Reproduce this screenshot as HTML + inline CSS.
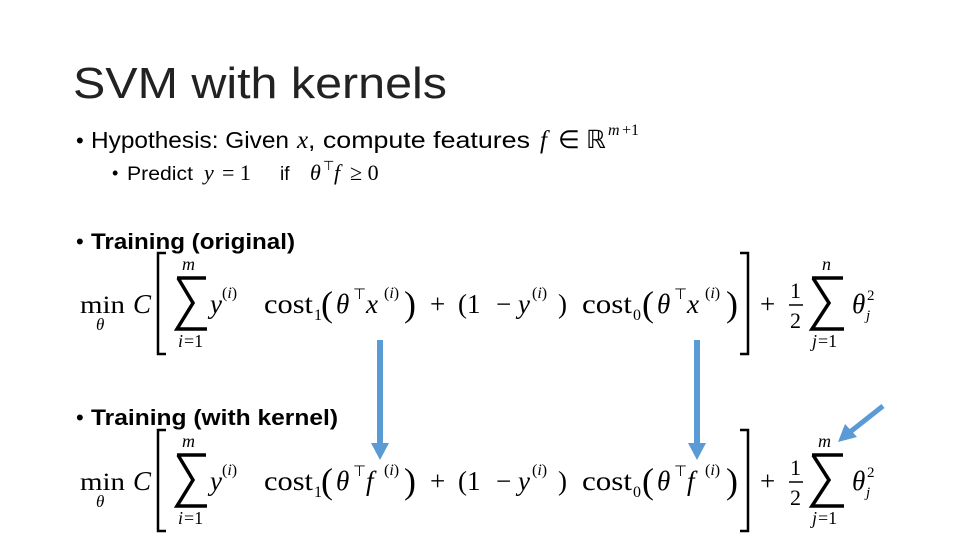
<!DOCTYPE html>
<html><head><meta charset="utf-8"><style>
html,body{margin:0;padding:0;background:#fff;}
svg{display:block;}
.s{font-family:"Liberation Sans",sans-serif;}
.m{font-family:"Liberation Serif",serif;}
.i{font-family:"Liberation Serif",serif;font-style:italic;}
</style></head><body>
<svg width="960" height="540" viewBox="0 0 960 540" xmlns="http://www.w3.org/2000/svg">
<rect width="960" height="540" fill="#fff"/>
<text x="73" y="98" class="s" font-size="44" textLength="374" lengthAdjust="spacingAndGlyphs" fill="#222">SVM with kernels</text>

<text x="76" y="148" class="s" font-size="22">•</text>
<text x="91" y="148" class="s" font-size="23" textLength="198" lengthAdjust="spacingAndGlyphs">Hypothesis: Given</text>
<text x="297" y="148" class="i" font-size="25">x</text>
<text x="308" y="148" class="s" font-size="23" textLength="222" lengthAdjust="spacingAndGlyphs">, compute features</text>
<text x="540" y="148" class="i" font-size="25">f</text>
<text x="558" y="148" class="m" font-size="25">∈</text>
<text x="586" y="148" class="m" font-size="25">ℝ</text>
<text x="608" y="135" class="i" font-size="16">m</text><text x="622" y="135" class="m" font-size="16">+1</text>

<text x="112" y="179" class="s" font-size="18">•</text>
<text x="127" y="180" class="s" font-size="19" textLength="66" lengthAdjust="spacingAndGlyphs">Predict</text>
<text x="204" y="180" class="i" font-size="22">y</text><text x="222" y="180" class="m" font-size="22">= 1</text>
<text x="280" y="180" class="s" font-size="19">if</text>
<text x="310" y="180" class="i" font-size="22">θ</text><text x="323" y="170" class="m" font-size="13">⊤</text><text x="334" y="180" class="i" font-size="22">f</text><text x="350" y="180" class="m" font-size="22">≥ 0</text>

<text x="76" y="249" class="s" font-size="22">•</text>
<text x="91" y="249" class="s" font-size="22" font-weight="bold" textLength="204" lengthAdjust="spacingAndGlyphs">Training (original)</text>
<text x="76" y="425" class="s" font-size="22">•</text>
<text x="91" y="425" class="s" font-size="22" font-weight="bold" textLength="247" lengthAdjust="spacingAndGlyphs">Training (with kernel)</text>

<g id="F1">
<text x="80" y="313" class="m" font-size="25" textLength="45" lengthAdjust="spacingAndGlyphs">min</text>
<text x="96" y="330" class="i" font-size="17">θ</text>
<text x="133" y="313" class="i" font-size="27">C</text>
<path d="M166,253 H158 V354 H166" fill="none" stroke="#000" stroke-width="2.5"/>
<path d="M177,278 H206 M178,278 L193,303 L177,329 H207" fill="none" stroke="#000" stroke-width="3.5" stroke-linejoin="miter"/>
<text x="178" y="347" class="i" font-size="18">i</text><text x="184" y="347" class="m" font-size="18">=1</text>
<text x="210" y="313" class="i" font-size="27">y</text><text x="222" y="298" class="m" font-size="16">(<tspan class="i">i</tspan>)</text>
<text x="264" y="313" class="m" font-size="27" textLength="49" lengthAdjust="spacingAndGlyphs">cost</text><text x="314" y="320" class="m" font-size="16">1</text>
<text x="321" y="316" class="m" font-size="36">(</text>
<text x="336" y="313" class="i" font-size="27">θ</text><text x="353" y="299" class="m" font-size="15">⊤</text>
<text x="384" y="298" class="m" font-size="16">(<tspan class="i">i</tspan>)</text>
<text x="404" y="316" class="m" font-size="36">)</text>
<text x="430" y="313" class="m" font-size="27">+</text>
<text x="458" y="313" class="m" font-size="27">(1</text>
<text x="496" y="313" class="m" font-size="27">−</text>
<text x="518" y="313" class="i" font-size="27">y</text><text x="532" y="298" class="m" font-size="16">(<tspan class="i">i</tspan>)</text>
<text x="558" y="313" class="m" font-size="27">)</text>
<text x="582" y="313" class="m" font-size="27" textLength="50" lengthAdjust="spacingAndGlyphs">cost</text><text x="633" y="320" class="m" font-size="16">0</text>
<text x="642" y="316" class="m" font-size="36">(</text>
<text x="657" y="313" class="i" font-size="27">θ</text><text x="674" y="299" class="m" font-size="15">⊤</text>
<text x="705" y="298" class="m" font-size="16">(<tspan class="i">i</tspan>)</text>
<text x="726" y="316" class="m" font-size="36">)</text>
<path d="M740,253 H748 V354 H740" fill="none" stroke="#000" stroke-width="2.5"/>
<text x="760" y="313" class="m" font-size="27">+</text>
<text x="790" y="298" class="m" font-size="22">1</text>
<line x1="789" y1="305" x2="803" y2="305" stroke="#000" stroke-width="1.5"/>
<text x="790" y="328" class="m" font-size="22">2</text>
<path d="M812,278 H843 M813,278 L829,303 L812,329 H844" fill="none" stroke="#000" stroke-width="3.5"/>
<text x="812" y="347" class="i" font-size="18">j</text><text x="818" y="347" class="m" font-size="18">=1</text>
<text x="852" y="313" class="i" font-size="27">θ</text>
<text x="867" y="300" class="m" font-size="15">2</text><text x="866" y="320" class="i" font-size="15">j</text>
</g>
<text x="182" y="270" class="i" font-size="18">m</text>
<text x="822" y="270" class="i" font-size="18">n</text>
<text x="366" y="313" class="i" font-size="27">x</text>
<text x="687" y="313" class="i" font-size="27">x</text>

<use href="#F1" transform="translate(0,177)"/>
<text x="182" y="447" class="i" font-size="18">m</text>
<text x="818" y="447" class="i" font-size="18">m</text>
<text x="366" y="490" class="i" font-size="27">f</text>
<text x="687" y="490" class="i" font-size="27">f</text>

<g fill="#5b9bd5" stroke="none">
<rect x="377" y="340" width="6" height="105"/>
<polygon points="371,443 389,443 380,460"/>
<rect x="694" y="340" width="6" height="105"/>
<polygon points="688,443 706,443 697,460"/>
</g>
<line x1="883" y1="406" x2="850" y2="432" stroke="#5b9bd5" stroke-width="5"/>
<polygon points="838,442 845,424 857,437" fill="#5b9bd5"/>
</svg>
</body></html>
